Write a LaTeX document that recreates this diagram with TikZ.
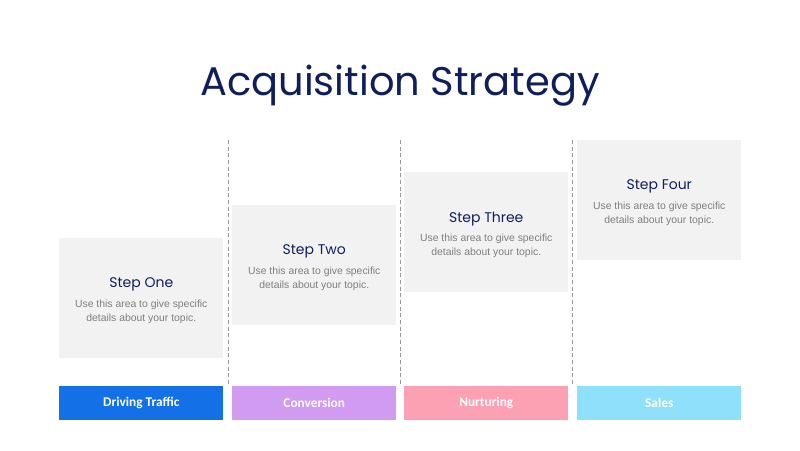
\documentclass[tikz,border=0pt]{standalone}
\usetikzlibrary{calc,positioning}
\usepackage{fontspec}
\setmainfont{Liberation Sans}
\newfontfamily\pop{Poppins}
\newfontfamily\carl{Carlito}
\definecolor{navy}{HTML}{0F1F5C}
\definecolor{boxg}{HTML}{F2F2F2}
\definecolor{txtg}{HTML}{7F7F7F}
\definecolor{cA}{HTML}{1470E6}
\definecolor{cB}{HTML}{D09BF0}
\definecolor{cC}{HTML}{FCA0B4}
\definecolor{cD}{HTML}{8FE0FA}
\begin{document}
\begin{tikzpicture}[x=0.75pt,y=-0.75pt,
  card/.style={fill=boxg,draw=none,minimum width=123pt,minimum height=90pt,inner sep=0pt,anchor=north west},
  bar/.style={draw=none,minimum width=123pt,minimum height=25.5pt,inner sep=0pt,anchor=north west,text=white,font=\carl\bfseries\fontsize{10}{12}\selectfont},
  head/.style={text=navy,font=\pop\fontsize{10.5}{12}\selectfont},
  body/.style={text=txtg,align=center,font=\fontsize{7.8}{10.5}\selectfont},
  sep/.style={draw=gray!80,densely dashed,line width=0.6pt}]
\useasboundingbox (0,0) rectangle (800,450);
\fill[white] (0,0) rectangle (800,450);
\node[text=navy,font=\pop\fontsize{30}{36}\selectfont] (title) at (400,86) {Acquisition Strategy};
\foreach \i/\x/\y/\c/\h/\b in {1/59/238/cA/Step One/Driving Traffic,2/232/205/cB/Step Two/Conversion,3/404/172/cC/Step Three/Nurturing,4/577/140/cD/Step Four/Sales}{
  \node[card] (card\i) at (\x,\y) {};
  \node[head] (h\i) at ($(card\i.north)+(0,-35pt)$) {\h};
  \node[body,below=-1pt of h\i] (t\i) {Use this area to give specific\\details about your topic.};
  \node[bar,fill=\c] (bar\i) at (\x,386) {\b};
}
\foreach \x [count=\k] in {228,400,572}{
  \coordinate (s\k) at (\x,140); \coordinate (e\k) at (\x,385);
  \draw[sep] (s\k) -- (e\k);
}
\end{tikzpicture}
\end{document}
